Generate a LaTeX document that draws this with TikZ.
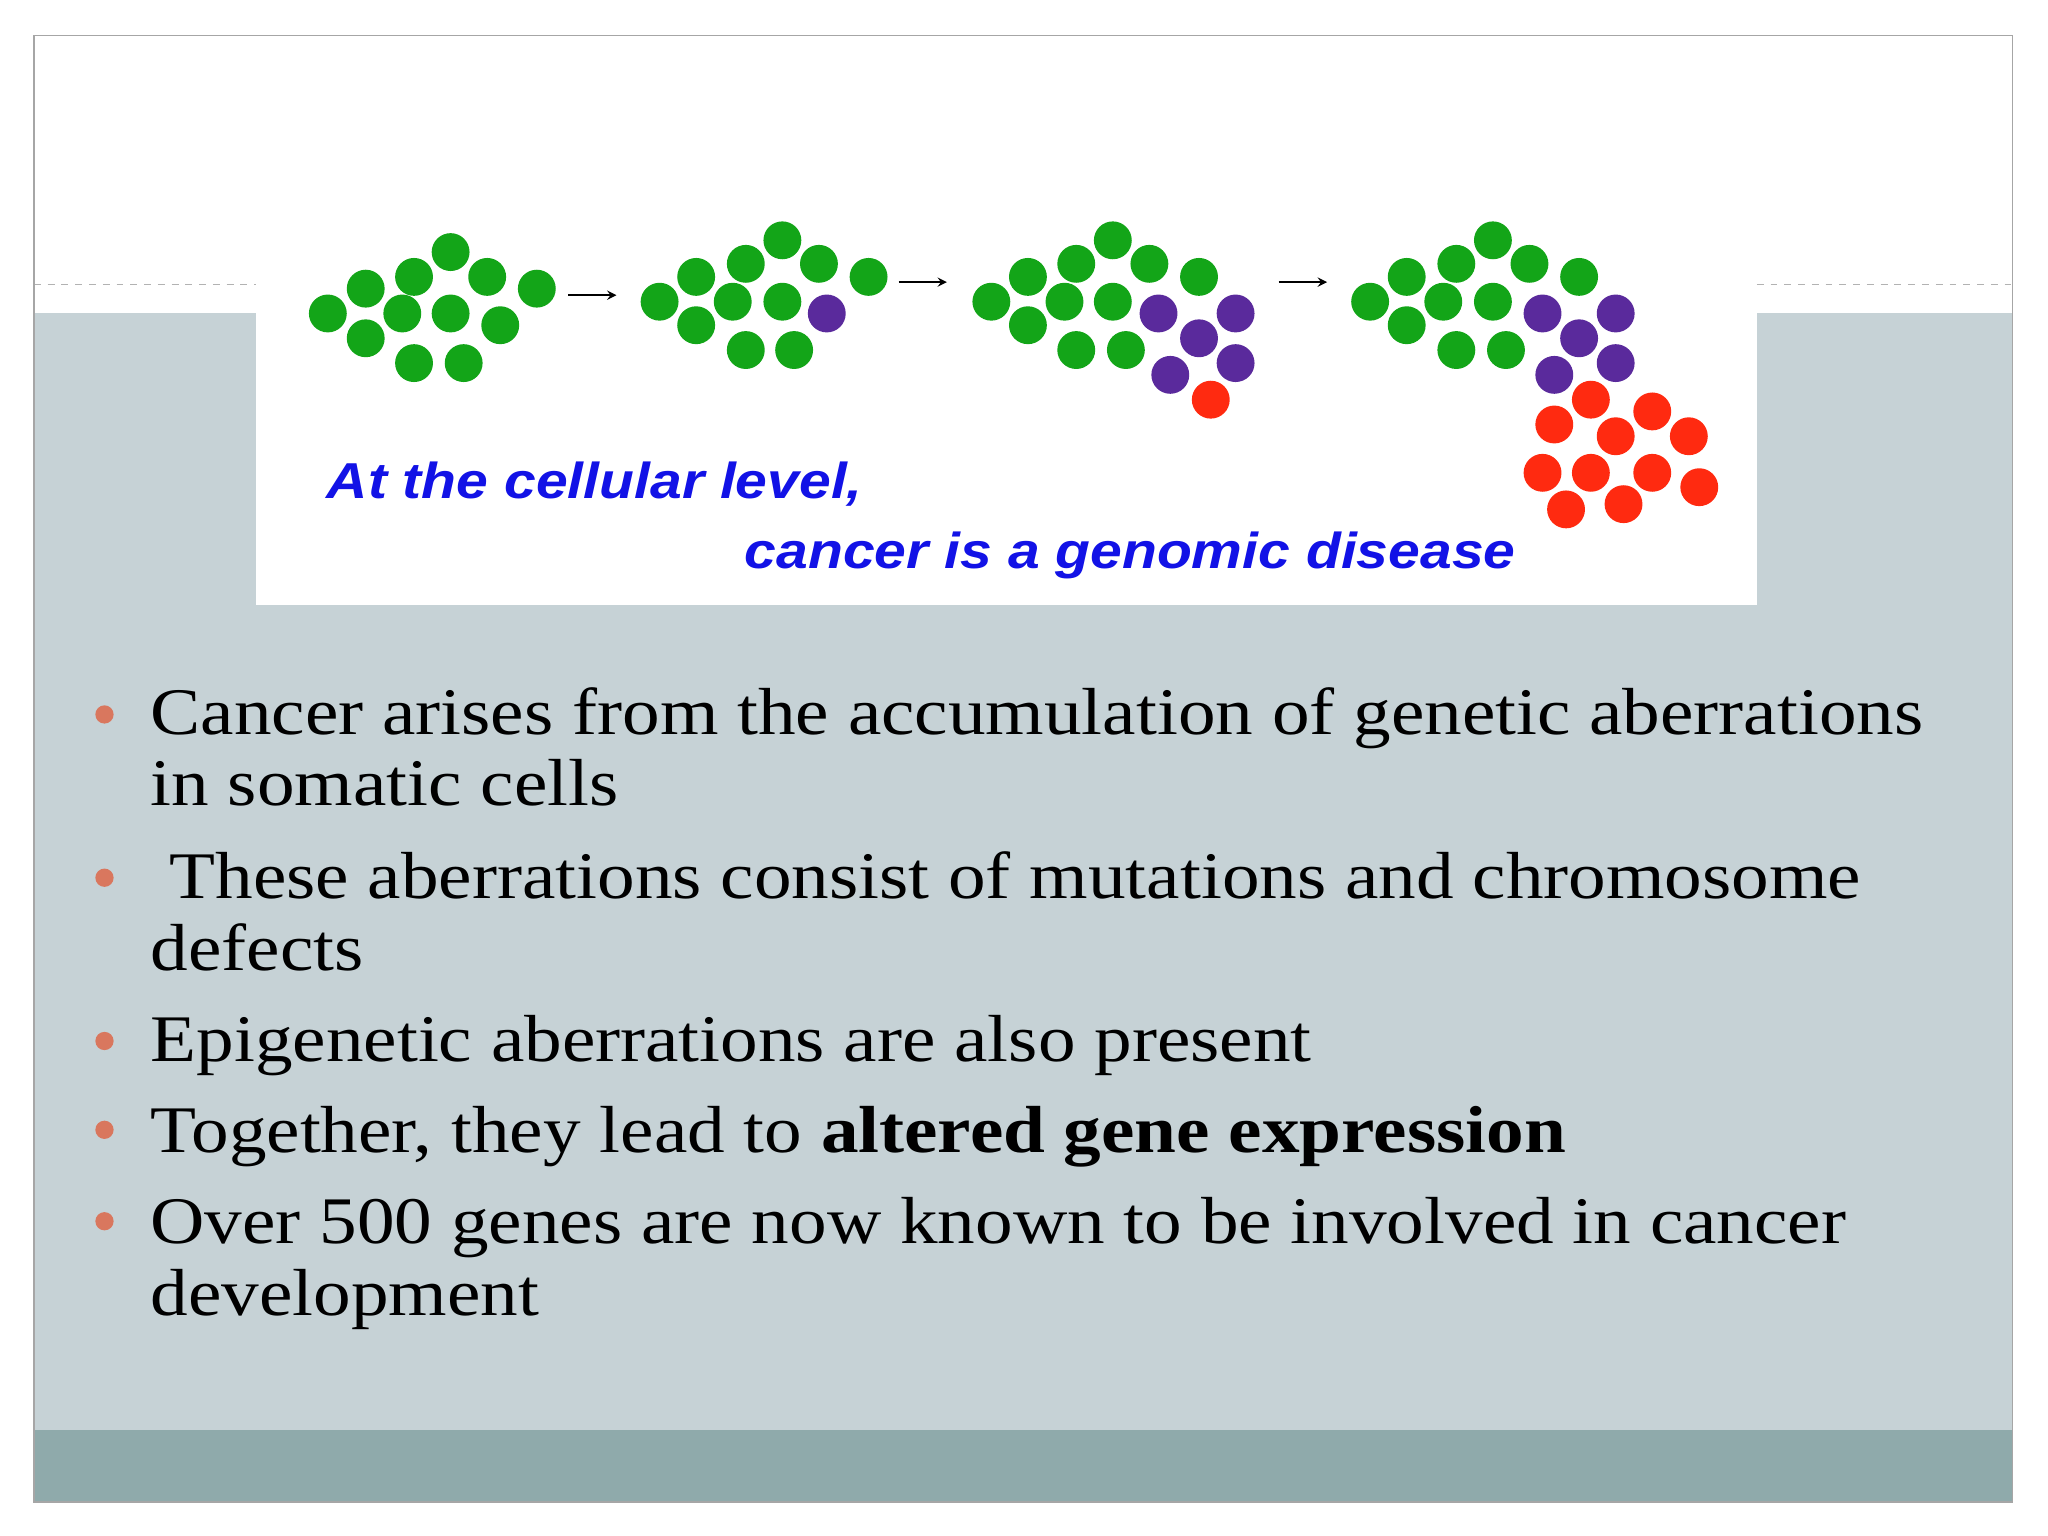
\documentclass[tikz,border=0pt]{standalone}
\usepackage{fontspec}
\setmainfont{Liberation Serif}[FakeStretch=1.13]
\newfontfamily\arialf{Liberation Sans}[FakeStretch=1.13]
\definecolor{gcell}{HTML}{13A518}
\definecolor{pcell}{HTML}{5A2A9C}
\definecolor{rcell}{HTML}{FF2A10}
\definecolor{bgray}{HTML}{C6D2D6}
\definecolor{bband}{HTML}{8FAAAB}
\definecolor{bul}{HTML}{D9775E}
\definecolor{btext}{HTML}{1212E6}
\tikzset{
 cg/.style={circle,fill=gcell,minimum size=29\pxu,inner sep=0pt},
 cp/.style={circle,fill=pcell,minimum size=29\pxu,inner sep=0pt},
 cr/.style={circle,fill=rcell,minimum size=29\pxu,inner sep=0pt},
 bulletdot/.style={circle,fill=bul,minimum size=14\pxu,inner sep=0pt},
 btxt/.style={anchor=base west,inner sep=0pt,font=\fontsize{29}{34}\selectfont,text=black},
 captxt/.style={anchor=base west,inner sep=0pt,font=\arialf\bfseries\itshape\fontsize{22}{26}\selectfont,text=btext},
 arr/.style={-stealth,line width=0.8pt}
}
\newcommand{\pxu}{mm*0.2}
\begin{document}
\begin{tikzpicture}[x=0.02cm,y=-0.02cm]
\useasboundingbox (0,0) rectangle (1568,1176);
\fill[white] (0,0) rectangle (1568,1176);
\fill[bgray] (26,240) rectangle (1541,1095);
\fill[bband] (26,1095) rectangle (1541,1150);
\draw[gray!60,dashed,line width=0.4pt] (26,218) -- (196,218) (1345,218) -- (1541,218);
\fill[white] (196,218) rectangle (1345,463);
\draw[gray!70,line width=0.6pt] (26,27) rectangle (1541,1150);
% cluster 1
\foreach \x/\y [count=\i] in {251/240,280/221,280/259,308/240,317/212,345/193,345/240,373/212,383/249,411/221,317/278,355/278}
  \node[cg] (a\i) at (\x,\y) {};
% cluster 2
\foreach \x/\y [count=\i] in {505/231,533/212,533/249,561/231,571/202,599/184,599/231,627/202,665/212,571/268,608/268}
  \node[cg] (b\i) at (\x,\y) {};
\node[cp] (bp1) at (633,240) {};
% cluster 3
\foreach \x/\y [count=\i] in {759/231,787/212,787/249,815/231,824/202,852/184,852/231,880/202,918/212,824/268,862/268}
  \node[cg] (c\i) at (\x,\y) {};
\foreach \x/\y [count=\i] in {887/240,946/240,918/259,946/278,896/287}
  \node[cp] (cp\i) at (\x,\y) {};
\node[cr] (cr1) at (927,306) {};
% cluster 4
\foreach \x/\y [count=\i] in {1049/231,1077/212,1077/249,1105/231,1115/202,1143/184,1143/231,1171/202,1209/212,1115/268,1153/268}
  \node[cg] (d\i) at (\x,\y) {};
\foreach \x/\y [count=\i] in {1181/240,1237/240,1209/259,1237/278,1190/287}
  \node[cp] (dp\i) at (\x,\y) {};
\foreach \x/\y [count=\i] in {1218/306,1190/325,1265/315,1237/334,1293/334,1181/362,1218/362,1265/362,1301/373,1199/390,1243/386}
  \node[cr] (dr\i) at (\x,\y) {};
% arrows
\coordinate (s1) at (435,226); \coordinate (e1) at (472,226);
\coordinate (s2) at (688,216); \coordinate (e2) at (725,216);
\coordinate (s3) at (979,216); \coordinate (e3) at (1016,216);
\draw[arr] (s1) -- (e1); \draw[arr] (s2) -- (e2); \draw[arr] (s3) -- (e3);
% caption
\node[captxt] (cap1) at (250,382) {At the cellular level,};
\node[captxt] (cap2) at (570,435) {cancer is a genomic disease};
% bullets
\foreach \y [count=\i] in {547,672,797,865,935} \node[bulletdot] (bd\i) at (80,\y) {};
\node[btxt] (t1) at (115,562) {Cancer arises from the accumulation of genetic aberrations};
\node[btxt] (t1b) at (115,617) {in somatic cells};
\node[btxt] (t2) at (115,688) {\ These aberrations consist of mutations and chromosome};
\node[btxt] (t2b) at (115,743) {defects};
\node[btxt] (t3) at (115,813) {Epigenetic aberrations are also present};
\node[btxt] (t4) at (115,882) {Together, they lead to \textbf{altered gene expression}};
\node[btxt] (t5) at (115,952) {Over 500 genes are now known to be involved in cancer};
\node[btxt] (t5b) at (115,1007) {development};
\end{tikzpicture}
\end{document}
